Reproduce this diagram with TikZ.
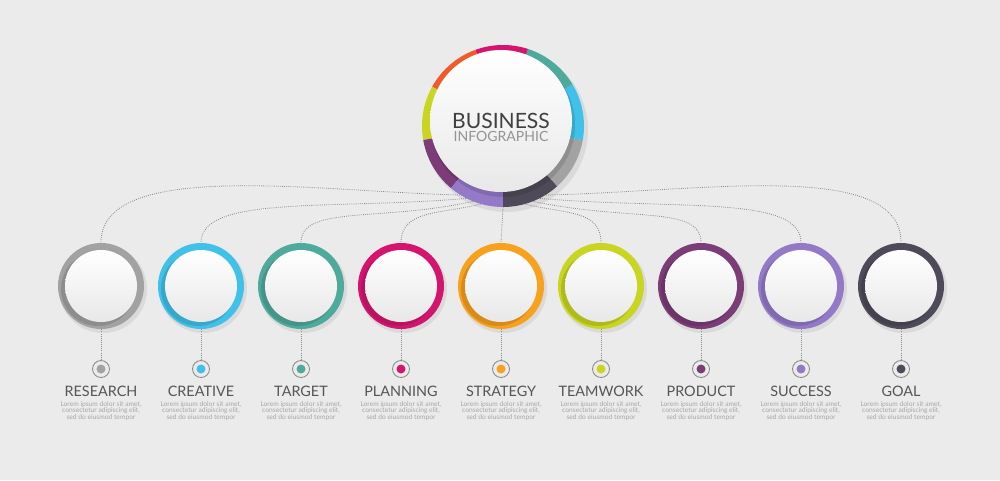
\documentclass[tikz,border=0pt]{standalone}
\usepackage{fontspec}
\setmainfont{Lato}
\usetikzlibrary{positioning}
\definecolor{bgcol}{HTML}{EBEBEB}
\definecolor{cResearch}{HTML}{A2A2A2}
\definecolor{cCreative}{HTML}{3FC1E9}
\definecolor{cTarget}{HTML}{4FAA9E}
\definecolor{cPlanning}{HTML}{D5146F}
\definecolor{cStrategy}{HTML}{F7A11C}
\definecolor{cStratSeg}{HTML}{F15A29}
\definecolor{cTeamwork}{HTML}{C9D520}
\definecolor{cProduct}{HTML}{7B3C78}
\definecolor{cSuccess}{HTML}{9479C9}
\definecolor{cGoal}{HTML}{4F4A59}
\definecolor{txtcol}{HTML}{555555}
\tikzset{>=latex,
  itemring/.style={circle, minimum size=1.72cm, inner sep=0pt},
  markring/.style={circle, minimum size=0.34cm, inner sep=0pt, draw=black!45, line width=0.5pt},
  conn/.style={black!45, line width=0.45pt, dash pattern=on 0.5pt off 0.7pt},
  disc/.style={top color=white, bottom color=black!9},
  lbl/.style={text=txtcol, font=\fontsize{8.2}{9}\selectfont},
  lorem/.style={text=black!35, align=center, font=\fontsize{3.8}{3.5}\selectfont}
}
\begin{document}
\begin{tikzpicture}[x=0.02cm, y=0.02cm]
  \fill[bgcol] (0,0) rectangle (1000,-480);
  \useasboundingbox (0,0) rectangle (1000,-480);
  \node[circle, minimum size=3.24cm, inner sep=0pt] (hub) at (503,-126) {};
  % the nine steps
  \foreach \i/\lab/\col in {1/RESEARCH/cResearch, 2/CREATIVE/cCreative, 3/TARGET/cTarget,
      4/PLANNING/cPlanning, 5/STRATEGY/cStrategy, 6/TEAMWORK/cTeamwork,
      7/PRODUCT/cProduct, 8/SUCCESS/cSuccess, 9/GOAL/cGoal} {
    \fill[black, opacity=.07] (100*\i+3,-289) circle[radius=44];
    \node[itemring, fill=\col] (n\i) at (100*\i+1,-286) {};
    \fill[\col!75!black, opacity=.5] ([shift={(-3,-3)}]n\i.center) circle[radius=37];
    \shade[disc] (n\i.center) circle[radius=36];
    \node[markring] (m\i) at (100*\i+1,-369) {};
    \fill[\col] (m\i.center) circle[radius=4.5];
    \draw[conn] (n\i.south) -- (m\i.north);
    \node[lbl] (l\i) at (100*\i+1,-391) {\lab};
    \node[lorem] (t\i) at (100*\i+1,-411) {Lorem ipsum dolor sit amet,\\consectetur adipiscing elit,\\sed do eiusmod tempor};
  }
  % links to the hub
  \draw[conn] (hub.-122) .. controls (320,-192) and (101,-158) .. (n1.north);
  \draw[conn] (hub.-117) .. controls (330,-210) and (201,-195) .. (n2.north);
  \draw[conn] (hub.-112) .. controls (380,-222) and (301,-205) .. (n3.north);
  \draw[conn] (hub.-106) .. controls (440,-214) and (401,-210) .. (n4.north);
  \draw[conn] (hub.south) -- (n5.north);
  \draw[conn] (hub.-74) .. controls (566,-214) and (601,-210) .. (n6.north);
  \draw[conn] (hub.-68) .. controls (630,-222) and (701,-205) .. (n7.north);
  \draw[conn] (hub.-63) .. controls (680,-210) and (801,-195) .. (n8.north);
  \draw[conn] (hub.-58) .. controls (700,-192) and (901,-158) .. (n9.north);
  % hub ring
  \fill[black, opacity=.07] (506,-130) circle[radius=82];
  \foreach \a/\b/\col in {72/110/cPlanning, 110/151/cStratSeg, 151/190/cTeamwork,
      190/230/cProduct, 230/270/cSuccess, 270/312/cGoal, 312/350/cResearch,
      350/391/cCreative, 391/432/cTarget}
    \fill[\col] (hub.center) -- ++(\a:81) arc[start angle=\a, end angle=\b, radius=81] -- cycle;
  \fill[black, opacity=.12] (503,-125) circle[radius=72];
  \shade[disc] (501,-121) circle[radius=71];
  \node[text=black!75, inner sep=0pt, anchor=base, font=\fontsize{12}{13}\selectfont] (t0) at (501,-128) {BUSINESS};
  \node[text=black!42, inner sep=0pt, anchor=base, font=\fontsize{8}{9}\selectfont] (t00) at (501,-141) {INFOGRAPHIC};
\end{tikzpicture}
\end{document}
